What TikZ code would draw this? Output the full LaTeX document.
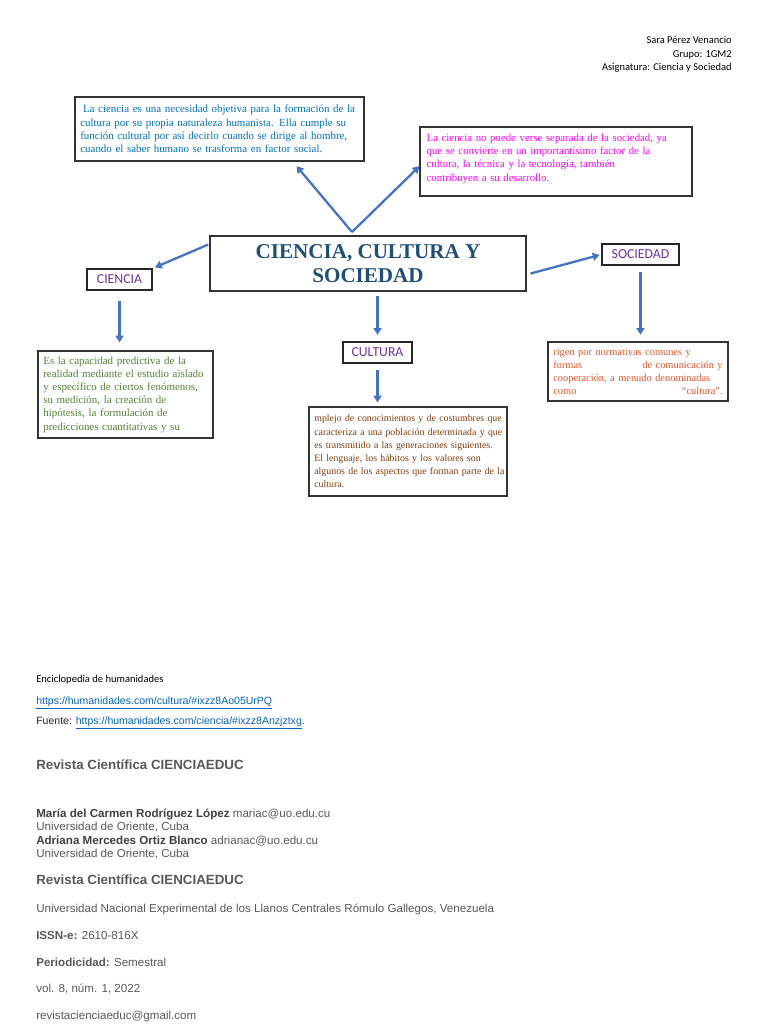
\documentclass[tikz,border=0pt]{standalone}
\usepackage{fontspec}
\setmainfont{Liberation Serif}
\newfontfamily\calfont{Carlito}
\newfontfamily\arfont{Liberation Sans}
\usepackage{xcolor}
\usetikzlibrary{arrows.meta,calc}
\definecolor{arblue}{HTML}{4472C4}
\definecolor{txblue}{HTML}{0070C0}
\definecolor{txmag}{HTML}{FF00FF}
\definecolor{txgreen}{HTML}{538135}
\definecolor{txbrown}{HTML}{843C0C}
\definecolor{txorange}{HTML}{E2562A}
\definecolor{ttlblue}{HTML}{1F4E79}
\definecolor{lblpurple}{HTML}{7030A0}
\definecolor{lnkblue}{HTML}{0563C1}
\definecolor{revgray}{HTML}{595959}
\tikzset{
  box/.style={draw=black!80,line width=0.9pt,inner xsep=4pt,inner ysep=2pt,align=left,
              font=\fontsize{8.2}{9.9}\selectfont},
  tag/.style={draw=black!85,line width=0.9pt,inner sep=0pt,text=lblpurple,
              font=\calfont\fontsize{10.3}{12}\selectfont},
  ar/.style={-{Triangle[length=5pt,width=6pt]},line width=1.7pt,draw=arblue},
  ref/.style={anchor=base west,inner sep=0pt,text=revgray,font=\arfont\fontsize{8.7}{10}\selectfont},
  hdr/.style={anchor=base east,inner sep=0pt,font=\calfont\fontsize{7.85}{9}\selectfont}
}
\newcommand{\jl}[1]{\hbox to\hsize{#1}}

\begin{document}
\begin{tikzpicture}[x=0.75pt,y=-0.75pt]
  \path[use as bounding box] (0,0) rectangle (768,1024);
  % encabezado
  \node[hdr] (autora) at (732,44) {Sara Pérez Venancio};
  \node[hdr] (grupo) at (732,58) {Grupo: 1GM2};
  \node[hdr] (asig) at (732,71) {Asignatura: Ciencia y Sociedad};
  % cajas superiores
  \node[box,text=txblue,text width=208.75pt,minimum height=48pt] (defcie) at (219.5,129)
    {\jl{\hspace{2pt}La ciencia es una necesidad objetiva para la formación de la}
     \jl{cultura por su propia naturaleza humanista. Ella cumple su}
     \jl{función cultural por así decirlo cuando se dirige al hombre,}
     cuando el saber humano se trasforma en factor social.};
  \node[box,text=txmag,inner xsep=5pt,text width=194pt,minimum height=51.75pt,
        font=\fontsize{8.1}{9.9}\selectfont] (defsoc) at (556,161.5)
    {La ciencia no puede verse separada de la sociedad, ya\\
     que se convierte en un importantísimo factor de la\\
     cultura, la técnica y la tecnología, también\\
     contribuyen a su desarrollo.\rule[-6pt]{0pt}{6pt}};
  % título
  \node[draw=black!80,line width=0.9pt,minimum width=237pt,minimum height=41.25pt,align=center,
        text=ttlblue,font=\bfseries\fontsize{15.8}{18.5}\selectfont] (title) at (368,263.5)
    {CIENCIA, CULTURA Y\\SOCIEDAD};
  % etiquetas
  \node[tag,minimum width=48.75pt,minimum height=15.75pt] (ciencia) at (119.5,279.5) {CIENCIA};
  \node[tag,minimum width=57.75pt,minimum height=15.75pt] (sociedad) at (640.5,254.5) {SOCIEDAD};
  \node[tag,minimum width=51.75pt,minimum height=15.75pt] (cultura) at (377.5,352.5) {CULTURA};
  % cajas inferiores
  \node[box,text=txgreen,text width=123.25pt,minimum height=65.25pt] (cienciatx) at (125.5,394.5)
    {\jl{Es la capacidad predictiva de la}
     \jl{realidad mediante el estudio aislado}
     \jl{y específico de ciertos fenómenos,}
     \jl{su medición, la creación de}
     \jl{hipótesis, la formulación de}
     \jl{predicciones cuantitativas y su}};
  \node[box,text=txbrown,text width=140.5pt,minimum height=66.75pt,
        font=\fontsize{7.4}{9.9}\selectfont] (culturatx) at (408,451.5)
    {\jl{mplejo de conocimientos y de costumbres que}
     \jl{caracteriza a una población determinada y que}
     \jl{es transmitido a las generaciones siguientes.}
     \jl{El lenguaje, los hábitos y los valores son}
     \jl{algunos de los aspectos que forman parte de la}
     cultura.};
  \node[box,text=txorange,text width=127pt,minimum height=44.25pt,
        font=\fontsize{7.8}{9.9}\selectfont] (sociedadtx) at (638,371.5)
    {\jl{rigen por normativas comunes y}
     \jl{formas \hfill de comunicación y}
     \jl{cooperación, a menudo denominadas}
     \jl{como \hfill ``cultura''.}};
  % flechas
  \coordinate (fork) at (352,232);
  \draw[ar,shorten >=4.5pt] (fork) -- (defcie.-24);
  \draw[ar] (fork) -- (defsoc.182);
  \draw[ar,shorten <=1pt,shorten >=2pt] (title.173) -- (ciencia.north east);
  \draw[ar,shorten <=3pt,shorten >=1.5pt] (title.-4) -- (sociedad.west);
  \draw[ar,shorten <=7.5pt,shorten >=6pt] (ciencia.south) -- (ciencia.south |- cienciatx.north);
  \draw[ar,shorten <=3pt,shorten >=5pt] (cultura.north |- title.south) -- (cultura.north);
  \draw[ar,shorten <=5pt,shorten >=3pt] (cultura.south) -- (cultura.south |- culturatx.north);
  \draw[ar,shorten <=5pt,shorten >=5pt] (sociedad.south) -- (sociedad.south |- sociedadtx.north);
  % referencias
  \node[ref,text=black,font=\calfont\fontsize{7.9}{9}\selectfont] (enc) at (36,682) {Enciclopedia de humanidades};
  \node[ref,text=lnkblue,font=\arfont\fontsize{7.9}{9}\selectfont] (lnkcul) at (36,704)
    {\underline{https://humanidades.com/cultura/\#ixzz8Ao05UrPQ}};
  \node[ref,text=black!85,font=\arfont\fontsize{7.9}{9}\selectfont] (lnkcie) at (36,724)
    {Fuente: \textcolor{lnkblue}{\underline{https://humanidades.com/ciencia/\#ixzz8Anzjztxg}}.};
  \node[ref,font=\arfont\bfseries\fontsize{10}{12}\selectfont] (rev1) at (36,769) {Revista Científica CIENCIAEDUC};
  \node[ref] (aut1) at (36,817) {\textbf{\color{black!75}María del Carmen Rodríguez López} mariac@uo.edu.cu};
  \node[ref] (uni1) at (36,830) {Universidad de Oriente, Cuba};
  \node[ref] (aut2) at (36,844) {\textbf{\color{black!75}Adriana Mercedes Ortiz Blanco} adrianac@uo.edu.cu};
  \node[ref] (uni2) at (36,857) {Universidad de Oriente, Cuba};
  \node[ref,font=\arfont\bfseries\fontsize{10}{12}\selectfont] (rev2) at (36,884) {Revista Científica CIENCIAEDUC};
  \node[ref] (unellez) at (36,912) {Universidad Nacional Experimental de los Llanos Centrales Rómulo Gallegos, Venezuela};
  \node[ref] (issn) at (36,939) {\textbf{ISSN-e:} 2610-816X};
  \node[ref] (period) at (36,966) {\textbf{Periodicidad:} Semestral};
  \node[ref] (vol) at (36,992) {vol. 8, núm. 1, 2022};
  \node[ref] (mail) at (36,1019) {revistacienciaeduc@gmail.com};
\end{tikzpicture}
\end{document}
